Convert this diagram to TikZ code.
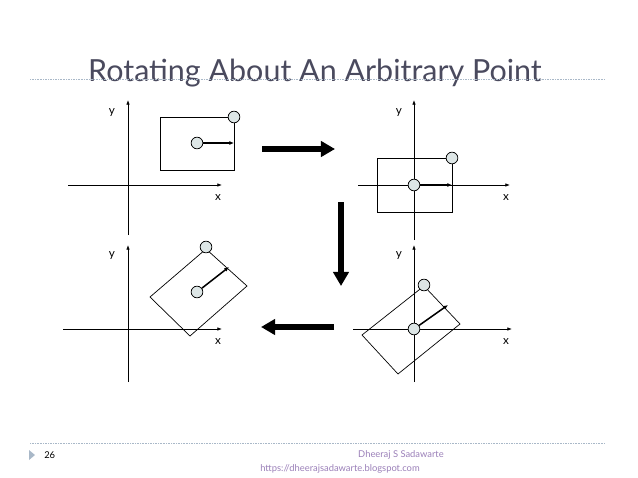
\documentclass[tikz,border=0pt]{standalone}
\usepackage{fontspec}
\setmainfont{Lato}
\usepackage{tikz}
\usetikzlibrary{arrows.meta}
\definecolor{titlegray}{HTML}{4A4A5E}
\definecolor{footviolet}{HTML}{9A7FB8}
\definecolor{dotblue}{HTML}{A9B8C8}
\definecolor{dotfill}{HTML}{DDE6E6}

\begin{document}
\begin{tikzpicture}[x=0.03cm,y=-0.03cm,line width=0.6pt]
        \tikzstyle{axis}=[-{Latex[length=4pt,width=3pt]}]
        \tikzstyle{pt}=[draw,circle,fill=dotfill,inner sep=0pt,minimum size=10pt]
        \tikzstyle{lbl}=[font=\normalsize]
        \tikzstyle{bigstep}=[line width=4.5pt,-{Triangle[length=12pt,width=13pt]}]
        \tikzstyle{vec}=[line width=1.3pt,-{Latex[length=4pt,width=3.5pt]}]
        \useasboundingbox (0,0) rectangle (638,478);

	    % title and footer
	    \node[font=\fontsize{26}{30}\selectfont,text=titlegray] (title) at (315,73) {Rotating About An Arbitrary Point};
	    \draw[dotblue,densely dotted,thin] (30,79) -- (605,79);
	    \draw[dotblue,densely dotted,thin] (30,443) -- (605,443);
	    \fill[dotblue] (29,450) -- (35,455) -- (29,460) -- cycle;
	    \node[font=\footnotesize,anchor=west] (page) at (40,455) {26};
	    \node[font=\footnotesize,text=footviolet,anchor=east] (author) at (448,455) {Dheeraj S Sadawarte};
	    \node[font=\footnotesize,text=footviolet] (url) at (340,469) {https://dheerajsadawarte.blogspot.com};

	    % top left
	    \draw[axis] (128,235) -- (128,100);
	    \draw[axis] (68,185) -- (222,185);
	    \node[lbl] (ya) at (112,113) {y};
	    \node[lbl] (xa) at (218,198) {x};
	    \draw (160,117) rectangle (234,170);
	    \node[pt] (pa) at (197,143) {};
	    \coordinate (ta) at (234,143);
	    \draw[vec] (pa) -- (ta);
	    \node[pt] (ca) at (234,117) {};

	    % top right
	    \draw[axis] (414,240) -- (414,100);
	    \draw[axis] (358,185) -- (510,185);
	    \node[lbl] (yb) at (399,113) {y};
	    \node[lbl] (xb) at (506,198) {x};
	    \draw (377,158) rectangle (452,212);
	    \node[pt] (pb) at (414,185) {};
	    \coordinate (tb) at (452,185);
	    \draw[vec] (pb) -- (tb);
	    \node[pt] (cb) at (452,158) {};

	    % bottom left
	    \draw[axis] (128,382) -- (128,245);
	    \draw[axis] (63,329) -- (222,329);
	    \node[lbl] (yc) at (112,256) {y};
	    \node[lbl] (xc) at (218,342) {x};
	    \draw (206,249) -- (247,286) -- (190,336) -- (150,297) -- cycle;
	    \node[pt] (pc) at (197,292) {};
	    \coordinate (tc) at (229,267);
	    \draw[vec] (pc) -- (tc);
	    \node[pt] (cc) at (206,247) {};

	    % bottom right
	    \draw[axis] (414,382) -- (414,245);
	    \draw[axis] (353,329) -- (512,329);
	    \node[lbl] (yd) at (399,256) {y};
	    \node[lbl] (xd) at (506,342) {x};
	    \draw (424,286) -- (460,324) -- (398,374) -- (362,335) -- cycle;
	    \node[pt] (pd) at (414,329) {};
	    \coordinate (td) at (448,305);
	    \draw[vec] (pd) -- (td);
	    \node[pt] (cd) at (424,285) {};

	    % steps
	    \coordinate (s1) at (262,149);
	    \coordinate (e1) at (335,149);
	    \draw[bigstep] (s1) -- (e1);
	    \coordinate (s2) at (341,202);
	    \coordinate (e2) at (341,286);
	    \draw[bigstep] (s2) -- (e2);
	    \coordinate (s3) at (334,327);
	    \coordinate (e3) at (261,327);
	    \draw[bigstep] (s3) -- (e3);
\end{tikzpicture}
\end{document}
